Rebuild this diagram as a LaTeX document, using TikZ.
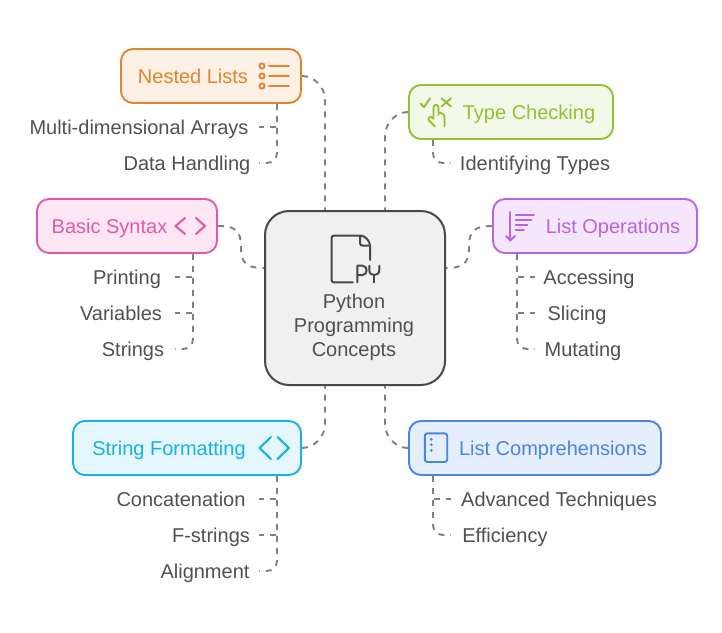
\documentclass[tikz,border=0pt]{standalone}
\usepackage{fontspec}
\usetikzlibrary{backgrounds}
\setmainfont{Liberation Sans}
\definecolor{orangeC}{HTML}{E0842F}\definecolor{orangeF}{HTML}{FDF0E4}
\definecolor{greenC}{HTML}{96C034}\definecolor{greenF}{HTML}{F2F9E8}
\definecolor{purpleC}{HTML}{B865E0}\definecolor{purpleF}{HTML}{F6E6FC}
\definecolor{pinkC}{HTML}{E05BA8}\definecolor{pinkF}{HTML}{FCE6F4}
\definecolor{cyanC}{HTML}{1BB0E4}\definecolor{cyanF}{HTML}{E3F7FD}
\definecolor{blueC}{HTML}{4A86E0}\definecolor{blueF}{HTML}{E4EEFD}
\definecolor{darkC}{HTML}{484848}\definecolor{centerF}{HTML}{F0F0F0}
\definecolor{textC}{HTML}{505050}\definecolor{connC}{HTML}{808080}
\tikzset{
 x=1pt,y=-1pt,
 cardbox/.style n args={2}{draw=#1,fill=#2,line width=1.9pt,rounded corners=12pt,text=#1,font=\fontsize{20}{24}\selectfont,inner sep=0pt,text height=18pt,text depth=4pt,minimum height=54pt},
 lab/.style={text=textC,font=\fontsize{20}{24}\selectfont,inner sep=0pt,text height=18pt,text depth=4pt},
 conn/.style={draw=connC,line width=1.9pt,dash pattern=on 6pt off 6pt},
 ico/.style={line width=1.9pt,line cap=round,line join=round},
}
\begin{document}
\begin{tikzpicture}
\useasboundingbox (0,0) rectangle (722,632);
\node[draw=darkC,fill=centerF,line width=2pt,rounded corners=24pt,minimum width=180pt,minimum height=174pt,inner sep=0pt] (center) at (355,298) {};
\node[cardbox={orangeC}{orangeF},minimum width=180pt] (nested) at (211,76) {};
\node[cardbox={greenC}{greenF},minimum width=204pt] (type) at (511,112) {};
\node[cardbox={purpleC}{purpleF},minimum width=204pt] (listop) at (595,226) {};
\node[cardbox={pinkC}{pinkF},minimum width=180pt] (basic) at (127,226) {};
\node[cardbox={cyanC}{cyanF},minimum width=228pt] (strf) at (187,448) {};
\node[cardbox={blueC}{blueF},minimum width=252pt] (listc) at (535,448) {};

\node[lab,text=orangeC] (tnested) at (193,76) {Nested Lists};
\node[lab,text=greenC] (ttype) at (529,112) {Type Checking};
\node[lab,text=purpleC] (tlistop) at (613,226) {List Operations};
\node[lab,text=pinkC] (tbasic) at (109.5,226) {Basic Syntax};
\node[lab,text=cyanC] (tstrf) at (169,448) {String Formatting};
\node[lab,text=blueC] (tlistc) at (553,448) {List Comprehensions};

\node[lab,minimum width=240pt] (a1) at (139,127) {Multi-dimensional Arrays};
\node[lab,minimum width=144pt] (a2) at (187,163) {Data Handling};
\node[lab,minimum width=168pt] (b1) at (535,163) {Identifying Types};
\node[lab,minimum width=108pt] (c1) at (589,277) {Accessing};
\node[lab,minimum width=84pt] (c2) at (577,313) {Slicing};
\node[lab,minimum width=96pt] (c3) at (583,349) {Mutating};
\node[lab,minimum width=96pt] (d1) at (127,277) {Printing};
\node[lab,minimum width=108pt] (d2) at (121,313) {Variables};
\node[lab,minimum width=84pt] (d3) at (133,349) {Strings};
\node[lab,minimum width=156pt] (e1) at (181,499) {Concatenation};
\node[lab,minimum width=96pt] (e2) at (211,535) {F-strings};
\node[lab,minimum width=108pt] (e3) at (205,571) {Alignment};
\node[lab,minimum width=216pt] (f1) at (559,499) {Advanced Techniques};
\node[lab,minimum width=108pt] (f2) at (505,535) {Efficiency};

\coordinate (NLb) at ([xshift=66pt]nested.south);
\coordinate (TCb) at ([xshift=-78pt]type.south);
\coordinate (LOb) at ([xshift=-78pt]listop.south);
\coordinate (BSb) at ([xshift=66pt]basic.south);
\coordinate (SFb) at ([xshift=90pt]strf.south);
\coordinate (LCb) at ([xshift=-102pt]listc.south);
\coordinate (Ct1) at ([xshift=-30pt]center.north);
\coordinate (Ct2) at ([xshift=30pt]center.north);
\coordinate (Cb1) at ([xshift=-30pt]center.south);
\coordinate (Cb2) at ([xshift=30pt]center.south);
\coordinate (Cl) at ([yshift=30pt]center.west);
\coordinate (Cr) at ([yshift=30pt]center.east);

\begin{scope}[on background layer]
\draw[conn] (nested.east) .. controls (314,76) and (325,87) .. (325,100) -- (Ct1);
\draw[conn] (type.west) .. controls (396,112) and (385,123) .. (385,136) -- (Ct2);
\draw[conn] (strf.east) .. controls (314,448) and (325,437) .. (325,424) -- (Cb1);
\draw[conn] (listc.west) .. controls (396,448) and (385,437) .. (385,424) -- (Cb2);
\draw[conn] (basic.east) .. controls (236,226) and (241,231) .. (241,247) .. controls (241,263) and (246,268) .. (Cl);
\draw[conn] (listop.west) .. controls (474,226) and (469,231) .. (469,247) .. controls (469,263) and (464,268) .. (Cr);

\draw[conn] (NLb) -- (NLb |- a1.east) -- (a1.east);
\draw[conn] (NLb) -- (277,153) .. controls (277,158.5) and (272.5,163) .. (267,163) -- (a2.east);
\draw[conn] (TCb) -- (433,153) .. controls (433,158.5) and (437.5,163) .. (443,163) -- (b1.west);
\draw[conn] (LOb) -- (LOb |- c1.west) -- (c1.west);
\draw[conn] (LOb) -- (LOb |- c2.west) -- (c2.west);
\draw[conn] (LOb) -- (517,339) .. controls (517,344.5) and (521.5,349) .. (527,349) -- (c3.west);
\draw[conn] (BSb) -- (BSb |- d1.east) -- (d1.east);
\draw[conn] (BSb) -- (BSb |- d2.east) -- (d2.east);
\draw[conn] (BSb) -- (193,339) .. controls (193,344.5) and (188.5,349) .. (183,349) -- (d3.east);
\draw[conn] (SFb) -- (SFb |- e1.east) -- (e1.east);
\draw[conn] (SFb) -- (SFb |- e2.east) -- (e2.east);
\draw[conn] (SFb) -- (277,561) .. controls (277,566.5) and (272.5,571) .. (267,571) -- (e3.east);
\draw[conn] (LCb) -- (LCb |- f1.west) -- (f1.west);
\draw[conn] (LCb) -- (433,525) .. controls (433,530.5) and (437.5,535) .. (443,535) -- (f2.west);
\end{scope}

% centre text
\node[lab] (p1) at (354,301) {Python};
\node[lab] (p2) at (354,325) {Programming};
\node[lab] (p3) at (354,349) {Concepts};

% centre icon
\begin{scope}[ico,draw=darkC,line width=2pt]
\draw (370,260) -- (370,245.7) .. controls (370,241) and (365,235.7) .. (361,235.7) -- (333.7,235.7) .. controls (332.5,235.7) and (331.7,236.5) .. (331.7,237.7) -- (331.7,280.3) .. controls (331.7,281.5) and (332.5,282.3) .. (333.7,282.3) -- (352.7,282.3);
\draw (360,236) -- (360,243) .. controls (360,244.8) and (361,245.7) .. (363,245.7) -- (370,245.7);
\draw (357.3,282.3) -- (357.3,265.7) -- (362.5,265.7) .. controls (368,265.7) and (368,275) .. (362.5,275) -- (357.3,275);
\draw (369.3,265.7) -- (369.3,270) .. controls (369.3,273.5) and (371.5,275) .. (374.3,275) .. controls (377,275) and (379.3,273.5) .. (379.3,270) -- (379.3,265.7);
\draw (374.3,275) -- (374.3,282.3);
\end{scope}

% nested lists icon
\begin{scope}[ico,draw=orangeC]
\foreach \yy in {66,76,86}{
 \draw (262,\yy) circle[radius=2.6pt];
 \draw (269,\yy) -- (289,\yy);
}
\end{scope}

% type checking icon
\begin{scope}[ico,draw=greenC]
\draw (420.5,103.5) -- (424,107) -- (430,98.5);
\draw (441.5,98.3) -- (451,106.5) (451,98.3) -- (441.5,106.5);
\draw (435,126.5) -- (428.8,120.5) .. controls (427.6,119) and (428.6,116.8) .. (430.5,116.8) .. controls (431.6,116.8) and (432.6,117.6) .. (433.5,118.5) -- (433.5,107.5) .. controls (433.5,104) and (438.5,104) .. (438.5,107.5) -- (438.5,115) (438.5,112.5) .. controls (442,112.8) and (444.5,114) .. (444.5,118) -- (444.5,126.5);
\end{scope}

% list operations icon
\begin{scope}[ico,draw=purpleC]
\draw (510.3,212) -- (510.3,240.5);
\draw (506,236) -- (510.3,240.5) -- (515,236);
\draw (515.5,215) -- (534,215);
\draw (515.5,220) -- (531.5,220);
\draw (515.5,225) -- (527.5,225);
\draw (515.5,230) -- (524,230);
\end{scope}

% basic syntax icon
\begin{scope}[ico,draw=pinkC,line width=2.1pt]
\draw (185,218) -- (175.5,226) -- (185,234);
\draw (196,218) -- (205,226) -- (196,234);
\end{scope}

% string formatting icon
\begin{scope}[ico,draw=cyanC,line width=2.1pt]
\draw (271,437) -- (259.5,448) -- (271,459);
\draw (277.5,437) -- (289,448) -- (277.5,459);
\end{scope}

% list comprehensions icon
\begin{scope}[ico,draw=blueC]
\draw[rounded corners=2.5pt] (424.8,433.3) rectangle (447.2,462);
\fill[blueC] (431.3,439.3) circle[radius=1.5pt] (431.3,444.7) circle[radius=1.5pt] (431.3,450.3) circle[radius=1.5pt];
\end{scope}
\end{tikzpicture}
\end{document}
